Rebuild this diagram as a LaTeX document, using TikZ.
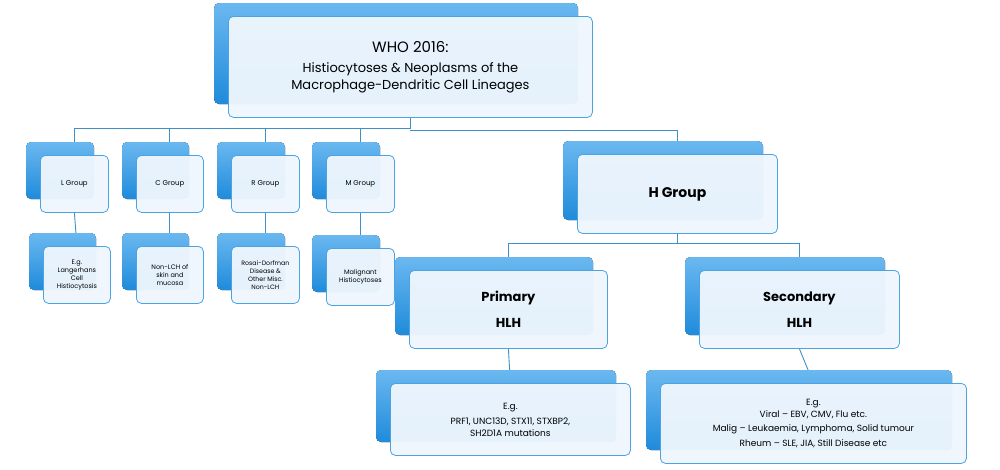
\documentclass[tikz,border=0pt]{standalone}
\usepackage{fontspec}
\setmainfont{Poppins}
\usetikzlibrary{backgrounds}
\definecolor{bTop}{HTML}{6BB8F0}
\definecolor{bBot}{HTML}{1F8BDB}
\definecolor{fFill}{HTML}{EEF6FD}
\definecolor{fLine}{HTML}{4DA3E0}
\definecolor{conn}{HTML}{3F8FC8}
\tikzset{
 back/.style={rounded corners=5pt,top color=bTop,bottom color=bBot,draw=none},
 front/.style={rounded corners=5pt,fill=fFill,fill opacity=0.96,draw=fLine,line width=0.8pt,text opacity=1,align=center},
 cn/.style={draw=conn,line width=0.9pt}
}
\newcommand{\bx}[7]{% name, x1,y1,x2,y2, font, text
 \fill[back] (#2,#3) rectangle (#4-14,#5-13);
 \node[front,font=#6,minimum width=#4-#2-14,minimum height=#5-#3-13,anchor=north west,inner sep=1pt] (#1) at (#2+14,#3+13) {#7};
}
\begin{document}
\begin{tikzpicture}[x=1pt,y=-1pt]
\useasboundingbox (0,0) rectangle (1000,469);
\bx{top}{214}{3}{592}{117}{\fontsize{13}{17}\selectfont}{{\fontsize{15}{17}\selectfont WHO 2016:}\\[3pt]Histiocytoses \& Neoplasms of the\\Macrophage-Dendritic Cell Lineages}
\bx{H}{563}{141}{777}{233}{\fontsize{14}{16}\selectfont\bfseries}{H Group}
\bx{L}{26}{142}{108}{212}{\fontsize{7}{8}\selectfont}{L Group}
\bx{C}{122}{142}{203}{212}{\fontsize{7}{8}\selectfont}{C Group}
\bx{R}{217}{142}{299}{212}{\fontsize{7}{8}\selectfont}{R Group}
\bx{M}{312}{142}{394}{212}{\fontsize{7}{8}\selectfont}{M Group}
\bx{L2}{29}{233}{110}{303}{\fontsize{6.5}{8}\selectfont}{E.g.\\Langerhans\\Cell\\Histiocytosis}
\bx{C2}{122}{233}{203}{303}{\fontsize{6.5}{8}\selectfont}{Non-LCH of\\skin and\\mucosa}
\bx{R2}{217}{233}{299}{303}{\fontsize{6.3}{8}\selectfont}{Rosai-Dorfman\\Disease \&\\Other Misc.\\Non-LCH}
\bx{M2}{312}{235}{394}{305}{\fontsize{6.5}{8}\selectfont}{Malignant\\Histiocytoses}
\bx{P}{395}{257}{607}{348}{\fontsize{13}{26}\selectfont\bfseries}{Primary\\HLH}
\bx{S}{685}{257}{899}{348}{\fontsize{13}{26}\selectfont\bfseries}{Secondary\\HLH}
\bx{P2}{376}{370}{630}{455}{\fontsize{9}{12}\selectfont}{E.g.\\[3pt]PRF1, UNC13D, STX11, STXBP2,\\SH2D1A mutations}
\bx{S2}{646}{370}{966}{463}{\fontsize{9}{11}\selectfont}{E.g.\\[1pt]Viral -- EBV, CMV, Flu etc.\\[3pt]Malig -- Leukaemia, Lymphoma, Solid tumour\\[4pt]Rheum -- SLE, JIA, Still Disease etc}
\begin{scope}[on background layer]
\draw[cn] (top.south) -- ++(0,11) -| (L.north);
\draw[cn] (top.south) ++(0,11) -| (C.north);
\draw[cn] (top.south) ++(0,11) -| (R.north);
\draw[cn] (top.south) ++(0,11) -| (M.north);
\draw[cn] (top.south) ++(0,13) -| (H.north);
\draw[cn] (H.south) -- ++(0,10) -| (P.north);
\draw[cn] (H.south) ++(0,10) -| (S.north);
\draw[cn] (L.south) -- (L2.north);
\draw[cn] (C.south) -- (C2.north);
\draw[cn] (R.south) -- (R2.north);
\draw[cn] (M.south) -- (M2.north);
\draw[cn] (P.south) -- (P2.north);
\draw[cn] (S.south) -- (S2.north);
\end{scope}
\end{tikzpicture}
\end{document}
